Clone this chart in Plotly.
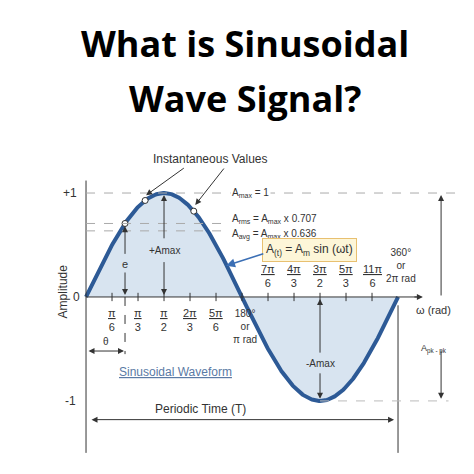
import numpy as np
import plotly.graph_objects as go

# wave data
t = np.linspace(0, 2 * np.pi, 400)
amp = np.sin(t)

tick_below = [np.pi/6, np.pi/3, np.pi/2, 2*np.pi/3, 5*np.pi/6]
lbl_below = ["π", "π", "π", "2π", "5π"]
den_below = ["6", "3", "2", "3", "6"]
tick_above = [7*np.pi/6, 4*np.pi/3, 3*np.pi/2, 5*np.pi/3, 11*np.pi/6]
lbl_above = ["7π", "4π", "3π", "5π", "11π"]
den_above = ["6", "3", "2", "3", "6"]
inst_pts = [np.pi/4, 1.19, 2.17]
y_ticks = [1, 0, -1]
y_tick_text = ["+1", "0", "-1"]

BLUE = "#2d5a96"
GREY = "#333333"
F = "Liberation Sans"

fig = go.Figure()
fig.add_trace(go.Scatter(x=t, y=amp, mode="lines", fill="tozeroy",
                         fillcolor="rgba(190,210,230,0.6)",
                         line=dict(color=BLUE, width=4), hoverinfo="skip"))
fig.add_trace(go.Scatter(x=inst_pts, y=np.sin(inst_pts), mode="markers",
                         marker=dict(size=6, color="white", line=dict(color=GREY, width=1)),
                         hoverinfo="skip"))

shapes = []
def line(x0, y0, x1, y1, dash="solid", color=GREY, w=1):
    shapes.append(dict(type="line", x0=x0, y0=y0, x1=x1, y1=y1,
                       line=dict(color=color, width=w, dash=dash)))

line(0, 1.12, 0, -1.5)
line(0, 0, 2*np.pi + 0.45, 0)
line(2*np.pi, -0.08, 2*np.pi, -1.5)
line(0, 1, 7.6, 1, "dash", "#aaaaaa")
line(0, 0.707, 2.8, 0.707, "dash", "#aaaaaa")
line(0, 0.636, 2.8, 0.636, "dash", "#aaaaaa")
line(3*np.pi/2, -1, 7.3, -1, "dash", "#bbbbbb")
line(np.pi/4, 0, np.pi/4, -0.55, "dash")
for x in tick_below + tick_above + [np.pi]:
    line(x, -0.04, x, 0.04)

ann = []
def txt(x, y, s, size=10, color=GREY, **kw):
    ann.append(dict(x=x, y=y, text=s, showarrow=False,
                    font=dict(family=F, size=size, color=color), **kw))
def arrow(x0, y0, x1, y1, side="end", color=GREY, w=1):
    ann.append(dict(x=x1, y=y1, ax=x0, ay=y0, axref="x", ayref="y", xref="x", yref="y",
                    text="", showarrow=True, arrowhead=2, arrowsize=1.2, arrowwidth=w,
                    arrowside=side, arrowcolor=color))

for x, n, d in zip(tick_below, lbl_below, den_below):
    txt(x, -0.22, f"<u>{n}</u><br>{d}", 11)
for x, n, d in zip(tick_above, lbl_above, den_above):
    txt(x, 0.2, f"<u>{n}</u><br>{d}", 11)
txt(-0.32, 1, "+1", 12)
txt(-0.2, 0, "0", 12)
txt(-0.32, -1, "-1", 12)
txt(-0.47, 0.05, "Amplitude", 12, textangle=-90)
txt(np.pi + 0.05, -0.28, "180°<br>or<br>π rad", 10)
txt(2*np.pi + 0.05, 0.3, "360°<br>or<br>2π rad", 10)
txt(7.0, -0.13, "ω (rad)", 11)
txt(2.5, 1.33, "Instantaneous Values", 12)
arrow(2.0, 1.25, inst_pts[1] + 0.02, np.sin(inst_pts[1]) + 0.05)
arrow(2.8, 1.25, inst_pts[2] + 0.03, np.sin(inst_pts[2]) + 0.06)
txt(2.9, 1.0, "A<sub>max</sub> = 1", 10, xanchor="left", bgcolor="white")
txt(2.9, 0.75, "A<sub>rms</sub> = A<sub>max</sub> x 0.707", 10, xanchor="left")
txt(2.9, 0.6, "A<sub>avg</sub> = A<sub>max</sub> x 0.636", 10, xanchor="left")
ann.append(dict(x=4.5, y=0.45, text="A<sub>(t)</sub> = A<sub>m</sub> sin (ωt)", showarrow=False,
                font=dict(family=F, size=12, color=GREY), bgcolor="#fdf6d8",
                bordercolor="#e8c070", borderwidth=1, borderpad=3))
arrow(3.6, 0.42, 2.82, 0.3, color="#3b6fb5", w=1.5)
arrow(np.pi/2, 0.55, np.pi/2, 0.98)
arrow(np.pi/2, 0.35, np.pi/2, 0.02)
txt(np.pi/2, 0.45, "+Amax", 10)
arrow(np.pi/4, 0.4, np.pi/4, 0.68)
arrow(np.pi/4, 0.25, np.pi/4, 0.02)
txt(np.pi/4, 0.32, "e", 11)
arrow(3*np.pi/2, -0.55, 3*np.pi/2, -0.02)
arrow(3*np.pi/2, -0.72, 3*np.pi/2, -0.98)
txt(3*np.pi/2, -0.64, "-Amax", 10)
arrow(0.02, -0.52, np.pi/4 - 0.02, -0.52, side="end+start")
txt(0.4, -0.43, "θ", 10)
txt(1.8, -0.72, "<u>Sinusoidal Waveform</u>", 12, color="#5a7aa5")
arrow(0.08, -1.18, 2*np.pi - 0.08, -1.18, side="end+start")
txt(2.3, -1.08, "Periodic Time (T)", 12)
arrow(7.15, 0, 7.15, 0.98)
arrow(7.15, -0.5, 7.15, -0.98)
txt(7.0, -0.5, "A<sub>pk - pk</sub>", 9)
arrow(2*np.pi + 0.3, 0, 2*np.pi + 0.5, 0)

for yp, s in [(0.925, "What is Sinusoidal"), (0.81, "Wave Signal?")]:
    ann.append(dict(x=0.5, y=yp, xref="paper", yref="paper", yanchor="middle", showarrow=False,
                    text=f"<b>{s}</b>", font=dict(family="Open Sans", size=36, color="black")))

fig.update_layout(
    width=474, height=474, margin=dict(l=0, r=0, t=0, b=0),
    paper_bgcolor="white", plot_bgcolor="white", showlegend=False,
    shapes=shapes, annotations=ann,
    xaxis=dict(range=[-1.571, 7.974], visible=False, fixedrange=True),
    yaxis=dict(range=[-1.78, 2.78], visible=False, fixedrange=True),
)
fig.write_html("out.html")
